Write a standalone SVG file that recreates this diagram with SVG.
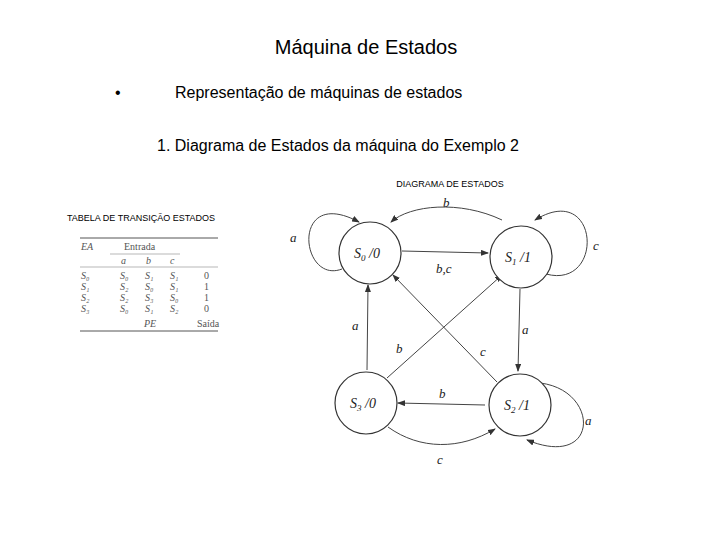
<svg xmlns="http://www.w3.org/2000/svg" width="720" height="540" viewBox="0 0 720 540">
<style>
.t{font-family:"Liberation Sans",Arial,sans-serif;fill:#000}
.i{font-family:"Liberation Serif","Times New Roman",serif;font-style:italic;fill:#222}
.tb{font-family:"Liberation Serif","Times New Roman",serif;font-size:10px;fill:#555}
.n{fill:#fff;stroke:#333;stroke-width:1.2}
.e{fill:none;stroke:#444;stroke-width:1;marker-end:url(#ar)}
</style>
<defs><marker id="ar" markerWidth="8" markerHeight="6" refX="7" refY="3" orient="auto" markerUnits="userSpaceOnUse"><path d="M0,0L8,3L0,6z" fill="#333"/></marker></defs>
<rect width="720" height="540" fill="#fff"/>
<text class="t" x="366" y="54" font-size="20" text-anchor="middle">Máquina de Estados</text>
<text class="t" x="115" y="98" font-size="16">•</text>
<text class="t" x="175" y="98" font-size="16">Representação de máquinas de estados</text>
<text class="t" x="157" y="151" font-size="16">1. Diagrama de Estados da máquina do Exemplo 2</text>
<text class="t" x="450" y="187" font-size="9" text-anchor="middle">DIAGRAMA DE ESTADOS</text>
<text class="t" x="67" y="221" font-size="9">TABELA DE TRANSIÇÃO ESTADOS</text>
<g id="table">
<line x1="80" y1="238" x2="218" y2="238" stroke="#555"/>
<line x1="110" y1="254" x2="180" y2="254" stroke="#888" stroke-width="0.6"/>
<line x1="80" y1="267" x2="218" y2="267" stroke="#888" stroke-width="0.6"/>
<line x1="80" y1="331" x2="218" y2="331" stroke="#555"/>
<text class="tb" x="81" y="250" font-style="italic">EA</text><text class="tb" x="124" y="250">Entrada</text>
<text class="tb" x="121" y="264" font-style="italic">a</text><text class="tb" x="146" y="264" font-style="italic">b</text><text class="tb" x="170" y="264" font-style="italic">c</text>
<g font-style="italic">
<text class="tb" x="81" y="279">S₀</text><text class="tb" x="120" y="279">S₀</text><text class="tb" x="145" y="279">S₁</text><text class="tb" x="170" y="279">S₁</text>
<text class="tb" x="81" y="290">S₁</text><text class="tb" x="120" y="290">S₂</text><text class="tb" x="145" y="290">S₀</text><text class="tb" x="170" y="290">S₁</text>
<text class="tb" x="81" y="301">S₂</text><text class="tb" x="120" y="301">S₂</text><text class="tb" x="145" y="301">S₃</text><text class="tb" x="170" y="301">S₀</text>
<text class="tb" x="81" y="312">S₃</text><text class="tb" x="120" y="312">S₀</text><text class="tb" x="145" y="312">S₁</text><text class="tb" x="170" y="312">S₂</text>
<text class="tb" x="144" y="327">PE</text>
</g>
<text class="tb" x="204" y="279">0</text><text class="tb" x="204" y="290">1</text><text class="tb" x="204" y="301">1</text><text class="tb" x="204" y="312">0</text><text class="tb" x="197" y="327">Saída</text>
</g>
<g id="edges">
<path class="e" d="M342,269 C300,285 290,185 359,222"/>
<path class="e" d="M502,220 C460,200 410,205 391,222"/>
<path class="e" d="M402,251 L488,253"/>
<path class="e" d="M546,274 C605,290 600,180 535,220"/>
<path class="e" d="M520,289 L518,371"/>
<path class="e" d="M540,383 C600,390 600,470 527,440"/>
<path class="e" d="M485,405 L398,403"/>
<path class="e" d="M388,427 C420,450 460,450 495,429"/>
<path class="e" d="M367,370 L368,285"/>
<path class="e" d="M387,378 L502,275"/>
<path class="e" d="M497,382 L393,275"/>
</g>
<g id="S0"><circle class="n" cx="370" cy="253" r="31"/><text class="i" x="354" y="258" font-size="14">S<tspan font-size="9" dy="3">0</tspan><tspan dy="-3"> /0</tspan></text></g>
<g id="S1"><circle class="n" cx="521" cy="257" r="31"/><text class="i" x="505" y="262" font-size="14">S<tspan font-size="9" dy="3">1</tspan><tspan dy="-3"> /1</tspan></text></g>
<g id="S3"><circle class="n" cx="366" cy="403" r="31"/><text class="i" x="350" y="408" font-size="14">S<tspan font-size="9" dy="3">3</tspan><tspan dy="-3"> /0</tspan></text></g>
<g id="S2"><circle class="n" cx="520" cy="405" r="31"/><text class="i" x="504" y="410" font-size="14">S<tspan font-size="9" dy="3">2</tspan><tspan dy="-3"> /1</tspan></text></g>
<g class="i" font-size="13">
<text x="290" y="242">a</text><text x="443" y="207">b</text><text x="593" y="250">c</text>
<text x="436" y="273">b,c</text><text x="352" y="330">a</text><text x="522" y="334">a</text>
<text x="396" y="353">b</text><text x="480" y="356">c</text><text x="439" y="398">b</text>
<text x="585" y="425">a</text><text x="437" y="464">c</text>
</g>
</svg>
